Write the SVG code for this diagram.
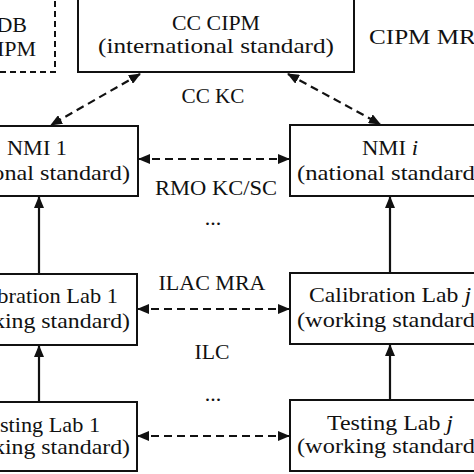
<svg xmlns="http://www.w3.org/2000/svg" width="474" height="474" viewBox="0 0 474 474">
<style>
.box{fill:#fff;stroke:#111;stroke-width:2}
.dbox{fill:#fff;stroke:#111;stroke-width:2;stroke-dasharray:6,4}
.t{font-family:"Liberation Serif","Times New Roman",serif;font-size:22px;fill:#111;text-anchor:middle}
.sol{stroke:#111;stroke-width:2.2;fill:none}
.dash{stroke:#111;stroke-width:2.2;fill:none;stroke-dasharray:8,5}
</style>
<defs>
<marker id="ah" markerUnits="userSpaceOnUse" markerWidth="12" markerHeight="10" refX="11" refY="5" orient="auto-start-reverse">
<path d="M0,0 L12,5 L0,10 z" fill="#111"/>
</marker>
</defs>
<g id="connectors">
<line class="dash" x1="140" y1="74" x2="51" y2="125" marker-start="url(#ah)" marker-end="url(#ah)"/>
<line class="dash" x1="288" y1="74" x2="380" y2="124" marker-start="url(#ah)" marker-end="url(#ah)"/>
<line class="dash" x1="139" y1="159" x2="289" y2="159" marker-start="url(#ah)" marker-end="url(#ah)"/>
<line class="dash" x1="138" y1="309" x2="289" y2="309" marker-start="url(#ah)" marker-end="url(#ah)"/>
<line class="dash" x1="138" y1="436" x2="289" y2="436" marker-start="url(#ah)" marker-end="url(#ah)"/>
<line class="sol" x1="39" y1="274" x2="39" y2="197" marker-end="url(#ah)"/>
<line class="sol" x1="39" y1="402" x2="39" y2="346" marker-end="url(#ah)"/>
<line class="sol" x1="390" y1="273" x2="390" y2="197" marker-end="url(#ah)"/>
<line class="sol" x1="390" y1="400" x2="390" y2="345" marker-end="url(#ah)"/>
</g>
<g id="kcdb">
<rect class="dbox" x="-20" y="-4" width="75" height="76"/>
<text class="t" x="27" y="32" style="text-anchor:end">DB</text>
<text class="t" x="36" y="56" style="text-anchor:end">IPM</text>
</g>
<g id="cccipm">
<rect class="box" x="78" y="-3" width="276" height="75"/>
<text class="t" x="216" y="30" textLength="88" lengthAdjust="spacingAndGlyphs">CC CIPM</text>
<text class="t" x="216" y="53" textLength="236" lengthAdjust="spacingAndGlyphs">(international standard)</text>
</g>
<g id="labels">
<text class="t" x="369" y="44" style="text-anchor:start" textLength="125" lengthAdjust="spacingAndGlyphs">CIPM MRA</text>
<text class="t" x="213" y="103" textLength="63" lengthAdjust="spacingAndGlyphs">CC KC</text>
<text class="t" x="216" y="195" textLength="122" lengthAdjust="spacingAndGlyphs">RMO KC/SC</text>
<text class="t" x="213" y="225">...</text>
<text class="t" x="212" y="290" textLength="107" lengthAdjust="spacingAndGlyphs">ILAC MRA</text>
<text class="t" x="212" y="359" textLength="35" lengthAdjust="spacingAndGlyphs">ILC</text>
<text class="t" x="213" y="401">...</text>
</g>
<g id="nmi1">
<rect class="box" x="-60" y="126" width="198" height="70"/>
<text class="t" x="37" y="155" textLength="60" lengthAdjust="spacingAndGlyphs">NMI 1</text>
<text class="t" x="39" y="180" textLength="182" lengthAdjust="spacingAndGlyphs">(national standard)</text>
</g>
<g id="nmii">
<rect class="box" x="290" y="125" width="200" height="71"/>
<text class="t" x="390" y="155" textLength="56" lengthAdjust="spacingAndGlyphs">NMI <tspan font-style="italic">i</tspan></text>
<text class="t" x="390" y="180" textLength="186" lengthAdjust="spacingAndGlyphs">(national standard)</text>
</g>
<g id="cal1">
<rect class="box" x="-60" y="274" width="197" height="71"/>
<text class="t" x="39" y="303" textLength="158" lengthAdjust="spacingAndGlyphs">Calibration Lab 1</text>
<text class="t" x="39" y="328" textLength="182" lengthAdjust="spacingAndGlyphs">(working standard)</text>
</g>
<g id="calj">
<rect class="box" x="290" y="273" width="200" height="71"/>
<text class="t" x="390" y="302" textLength="162" lengthAdjust="spacingAndGlyphs">Calibration Lab <tspan font-style="italic">j</tspan></text>
<text class="t" x="390" y="327" textLength="186" lengthAdjust="spacingAndGlyphs">(working standard)</text>
</g>
<g id="test1">
<rect class="box" x="-60" y="402" width="197" height="69"/>
<text class="t" x="39" y="432" textLength="122" lengthAdjust="spacingAndGlyphs">Testing Lab 1</text>
<text class="t" x="39" y="454" textLength="182" lengthAdjust="spacingAndGlyphs">(working standard)</text>
</g>
<g id="testj">
<rect class="box" x="290" y="400" width="200" height="71"/>
<text class="t" x="390" y="430" textLength="126" lengthAdjust="spacingAndGlyphs">Testing Lab <tspan font-style="italic">j</tspan></text>
<text class="t" x="390" y="453" textLength="186" lengthAdjust="spacingAndGlyphs">(working standard)</text>
</g>
</svg>
